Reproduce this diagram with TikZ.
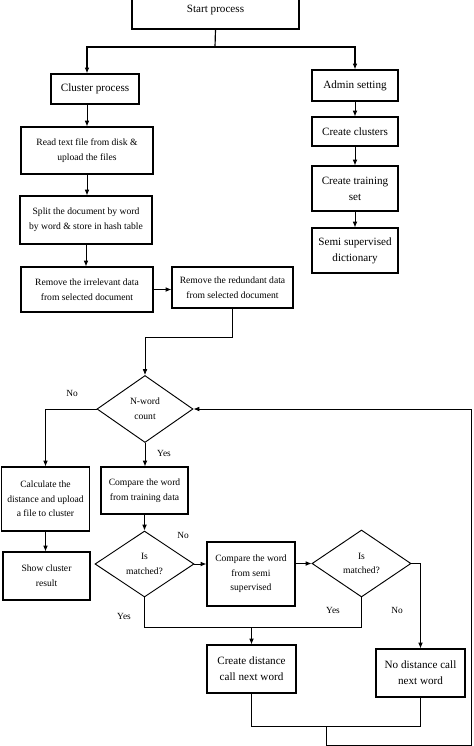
\documentclass[tikz,border=0pt]{standalone}
\usepackage{fontspec}
\setmainfont{Liberation Serif}
\usetikzlibrary{shapes.geometric,arrows.meta}

\begin{document}
\begin{tikzpicture}
        [x=0.03cm,y=-0.03cm,line width=0.7pt,>={Latex[length=5pt,width=4pt]},
         box/.style 2 args={draw,line width=0.9pt,align=center,inner sep=1pt,minimum width=#1*0.03cm,minimum height=#2*0.03cm,font=\fontsize{9.5}{13.5}\selectfont},
         smallbox/.style 2 args={box={#1}{#2},font=\fontsize{8.2}{12.5}\selectfont},
         decision/.style 2 args={draw,shape=diamond,line width=0.8pt,align=center,inner sep=0pt,minimum width=#1*0.03cm,minimum height=#2*0.03cm,font=\fontsize{8.2}{12.5}\selectfont},
         tag/.style={font=\fontsize{8}{10}\selectfont}]

        \useasboundingbox (0,0) rectangle (474,746);

        \node[box={167}{39}] (start) at (215.5,9.5) {Start process};
        \node[box={88}{30}] (cluster) at (95,89) {Cluster process};
        \node[box={86}{31}] (admin) at (355,85.5) {Admin setting};
        \node[box={86}{29}] (clusters) at (355,131.5) {Create clusters};
        \node[box={86}{45}] (training) at (355,188.5) {Create training\\set};
        \node[box={86}{45}] (dict) at (355,250.5) {Semi supervised\\dictionary};
        \node[smallbox={132}{47}] (read) at (87,150.5) {Read text file from disk \&\\upload the files};
        \node[smallbox={132}{48}] (split) at (86,220) {Split the document by word\\by word \& store in hash table};
        \node[smallbox={132}{45}] (irrel) at (87,289.5) {Remove the irrelevant data\\from selected document};
        \node[smallbox={121}{41}] (redund) at (232.5,287.5) {Remove the redundant data\\from selected document};
        \node[decision={96}{67}] (count) at (145,409) {N-word\\count};
        \node[smallbox={88}{64}] (calc) at (45.5,499) {Calculate the\\distance and upload\\a file to cluster};
        \node[smallbox={87}{47}] (train) at (144.5,490.5) {Compare the word\\from training data};
        \node[decision={99}{66}] (match1) at (144.5,564) {Is\\matched?};
        \node[smallbox={88}{64}] (semi) at (251,574) {Compare the word\\from semi\\supervised};
        \node[decision={99}{67}] (match2) at (361.5,563.5) {Is\\matched?};
        \node[smallbox={87}{48}] (show) at (46.5,576) {Show cluster\\result};
        \node[box={89}{48}] (dist) at (251.5,669) {Create distance\\call next word};
        \node[box={89}{48}] (nodist) at (420.5,673) {No distance call\\next word};

        \node[tag] (no1) at (72,393) {No};
        \node[tag] (yes1) at (164,453) {Yes};
        \node[tag] (no2) at (183,535) {No};
        \node[tag] (yes2) at (124,616) {Yes};
        \node[tag] (yes3) at (333,610) {Yes};
        \node[tag] (no3) at (397,610) {No};

        \coordinate (fork) at (215,47);
        \coordinate (bend) at (232.5,337);
        \coordinate (merge) at (251.5,627);
        \coordinate (gather) at (326,726);
        \coordinate (c1) at (326,745);
        \coordinate (c2) at (471,745);
        \coordinate (c3) at (471,409);

        \draw[line width=1pt] (start.south) -- (fork);
        \draw[->,line width=1pt] (fork) -| (read.north |- cluster.north);
        \draw[->,line width=1pt] (fork) -| (admin.north);
        \draw[->] (read.north |- cluster.south) -- (read.north);
        \draw[->] (read.south) -- (read.south |- split.north);
        \draw[->] (split.south) -- (split.south |- irrel.north);
        \draw[->] (irrel.east) -- (irrel.east -| redund.west);
        \draw[->] (admin) -- (clusters);
        \draw[->] (clusters) -- (training);
        \draw[->] (training) -- (dict);
        \draw (redund.south) -- (bend);
        \draw[->] (bend) -| (count.north);
        \draw[->] (count.west) -| (calc.north);
        \draw[->] (count.south) -- (count.south |- train.north);
        \draw[->] (calc.south) -- (calc.south |- show.north);
        \draw[->] (train.south) -- (match1.north);
        \draw[->] (match1.east) -- (match1.east -| semi.west);
        \draw[->] (semi.east |- match2.west) -- (match2.west);
        \draw (match1.south) |- (match2.south |- merge) -- (match2.south);
        \draw[->] (merge) -- (dist.north);
        \draw[->] (match2.east) -| (nodist.north);
        \draw (dist.south) |- (nodist.south |- gather) -- (nodist.south);
        \draw[->] (gather) -- (c1) -- (c2) -- (c3) -- (count.east);
      \end{tikzpicture}
\end{document}
